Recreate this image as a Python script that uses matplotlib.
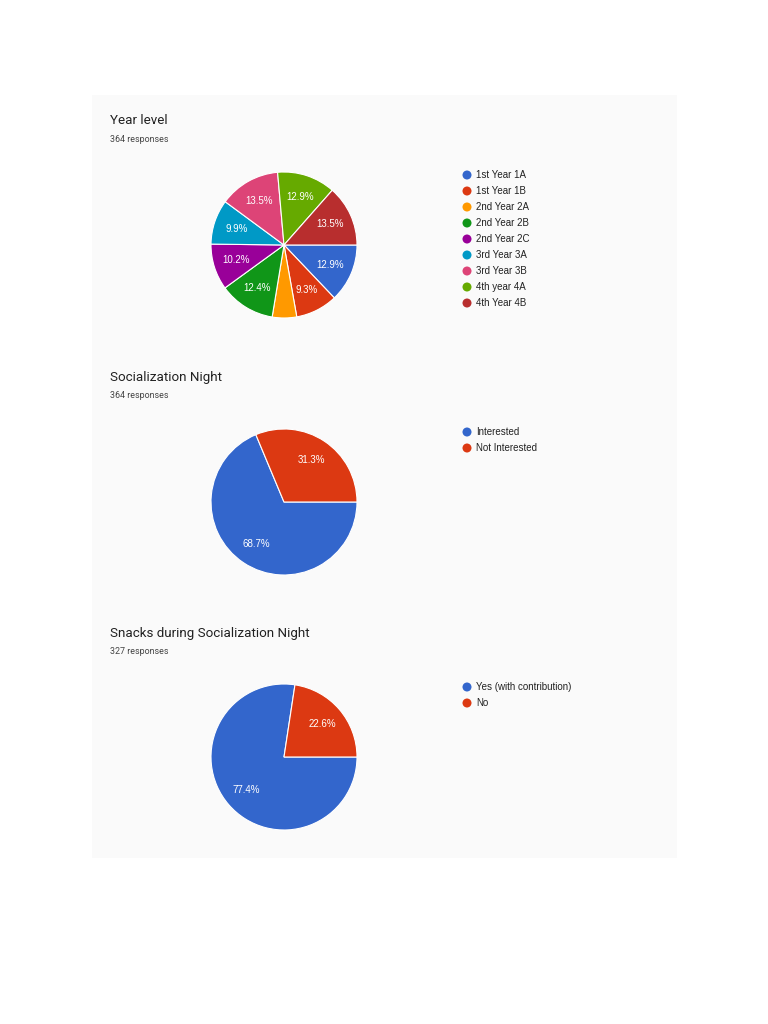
import matplotlib
matplotlib.use('Agg')
import matplotlib.pyplot as plt
from matplotlib.patches import Rectangle, Circle

# chart data
year_labels = ['1st Year 1A', '1st Year 1B', '2nd Year 2A', '2nd Year 2B', '2nd Year 2C',
               '3rd Year 3A', '3rd Year 3B', '4th year 4A', '4th Year 4B']
year_pct = [12.9, 9.3, 5.4, 12.4, 10.2, 9.9, 13.5, 12.9, 13.5]

social_labels = ['Interested', 'Not Interested']
social_pct = [68.7, 31.3]

snack_labels = ['Yes (with contribution)', 'No']
snack_pct = [77.4, 22.6]

titles = ['Year level', 'Socialization Night', 'Snacks during Socialization Night']
responses = ['364 responses', '364 responses', '327 responses']

palette = ['#3366cc', '#dc3912', '#ff9900', '#109618', '#990099',
           '#0099c6', '#dd4477', '#66aa00', '#b82e2e']

W, H = 768, 1024
fig = plt.figure(figsize=(W / 100, H / 100), dpi=100)
fig.patch.set_facecolor('white')

# overlay in pixel coords
bg = fig.add_axes([0, 0, 1, 1])
bg.set_xlim(0, W)
bg.set_ylim(H, 0)
bg.axis('off')
bg.add_patch(Rectangle((92, 95), 585, 763, facecolor='#fafafa', edgecolor='none'))

sections = [
    (year_labels, year_pct, 121),
    (social_labels, social_pct, 378),
    (snack_labels, snack_pct, 633),
]

cx, r = 284, 73
for k, (labels, vals, ty) in enumerate(sections):
    bg.text(110, ty, titles[k], fontsize=9.6, family=['Roboto', 'DejaVu Sans'],
            color='#212121', va='center', ha='left')
    bg.text(110, ty + 18, responses[k], fontsize=6.4, family=['Roboto', 'DejaVu Sans'],
            color='#444444', va='center', ha='left')

    cy = ty + 124
    ax = fig.add_axes([(cx - r) / W, 1 - (cy + r) / H, 2 * r / W, 2 * r / H])
    ax.pie(vals, colors=palette[:len(vals)], startangle=0, counterclock=False,
           autopct=lambda p: '%.1f%%' % p if p > 6 else '', pctdistance=0.69,
           wedgeprops=dict(edgecolor='white', linewidth=0.8),
           textprops=dict(color='white', fontsize=7, family=['Liberation Sans', 'DejaVu Sans']))
    ax.set_xlim(-1, 1)
    ax.set_ylim(-1, 1)
    ax.set_aspect('auto')
    ax.axis('off')

    ly = ty + 54
    for i, name in enumerate(labels):
        bg.add_patch(Circle((467, ly + 16 * i), 4.5, facecolor=palette[i], edgecolor='none'))
        bg.text(476, ly + 16 * i, name, fontsize=7, family=['Liberation Sans', 'DejaVu Sans'],
                color='#222222', va='center', ha='left')

plt.savefig('out.png', dpi=100)
